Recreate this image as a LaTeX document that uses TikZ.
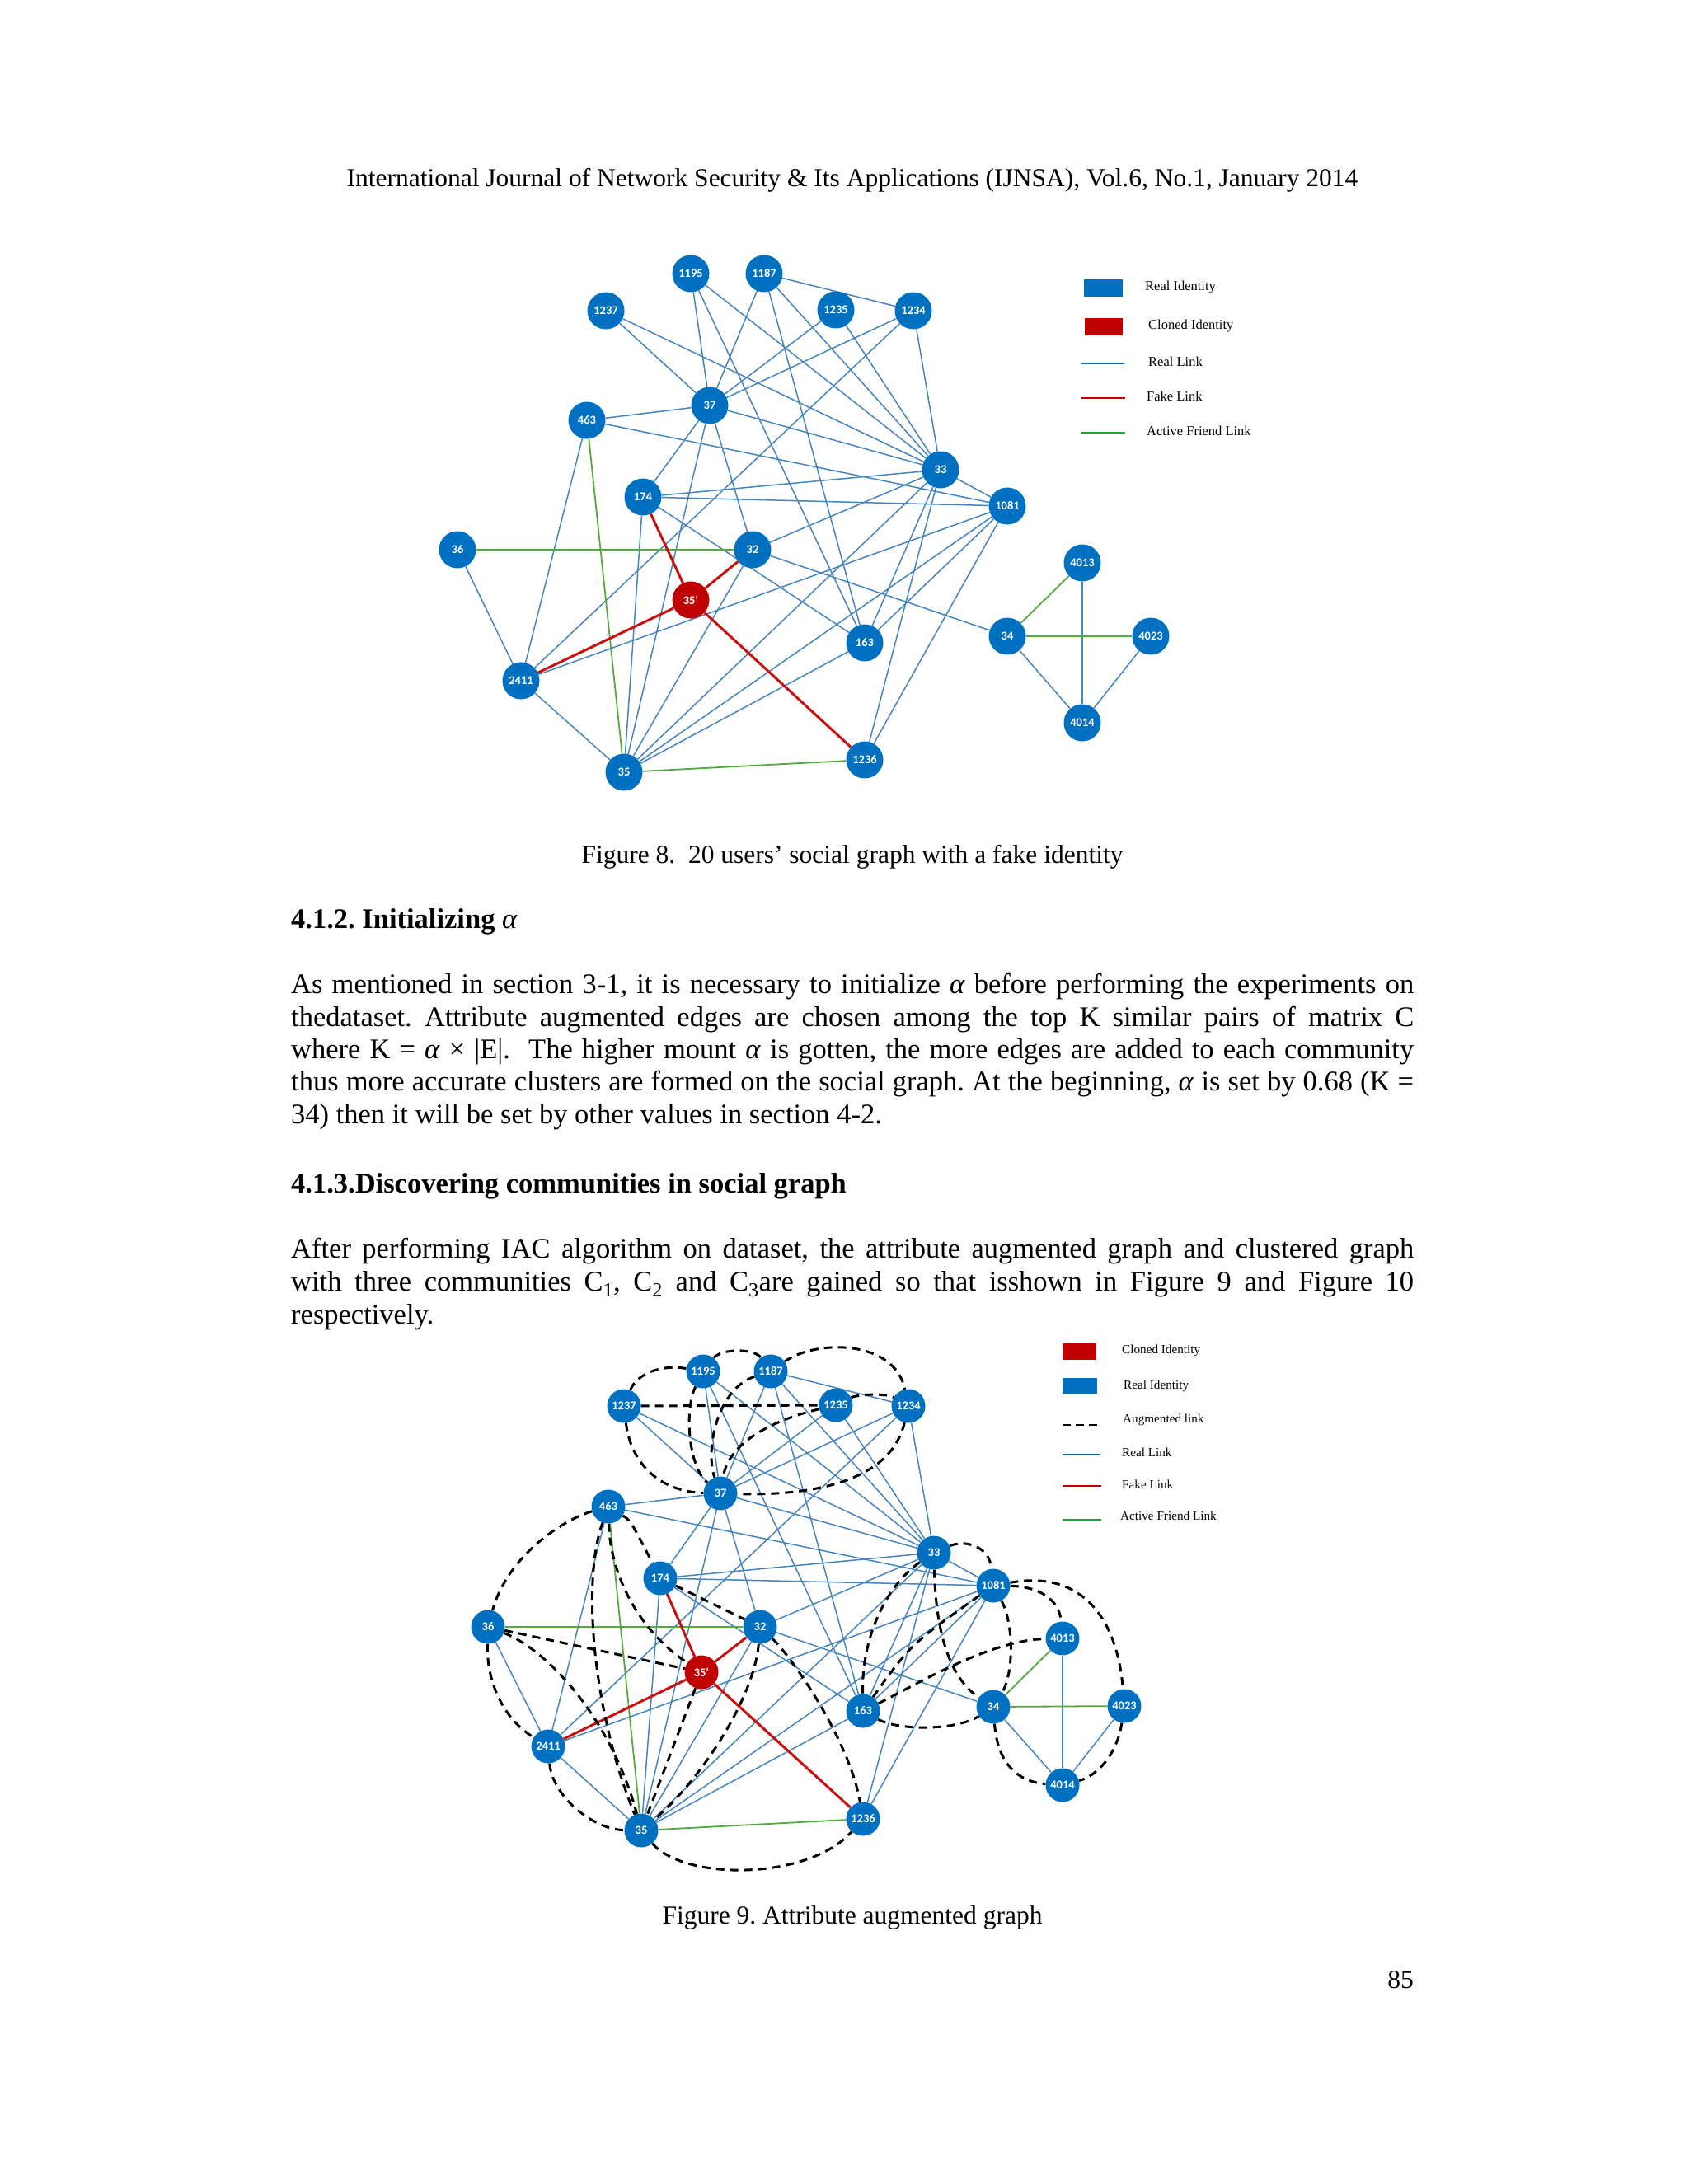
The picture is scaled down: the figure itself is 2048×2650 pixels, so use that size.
\documentclass[tikz,border=0pt]{standalone}
\usepackage{fontspec}
\setmainfont{Liberation Serif}
\newfontfamily\lblfont{Carlito}
\usetikzlibrary{backgrounds}
\definecolor{nodeblue}{RGB}{0,112,192}
\definecolor{nodered}{RGB}{192,0,0}
\definecolor{linkblue}{RGB}{70,132,190}
\definecolor{linkgreen}{RGB}{84,170,60}
\definecolor{linkred}{RGB}{200,16,16}
\definecolor{leggreen}{RGB}{20,170,60}
\begin{document}
\frenchspacing
\begin{tikzpicture}[x=1pt,y=-1pt,
  rnode/.style={circle,fill=nodeblue,text=white,inner sep=0pt,font=\lblfont\bfseries\fontsize{14.5}{15}\selectfont},
  bignode/.style={minimum size=45pt},
  smallnode/.style={minimum size=41pt},
  cnode/.style={rnode,fill=nodered},
  reallink/.style={draw=linkblue,line width=1.5pt},
  friendlink/.style={draw=linkgreen,line width=1.8pt},
  fakelink/.style={draw=linkred,line width=3pt},
  auglink/.style={draw=black,line width=3pt,dash pattern=on 10pt off 7pt},
  bodytext/.style={inner sep=0pt,anchor=base west,font=\fontsize{34.5}{40}\selectfont},
  headtext/.style={inner sep=0pt,anchor=base west,font=\bfseries\fontsize{34.5}{40}\selectfont},
  captext/.style={inner sep=0pt,anchor=base,font=\fontsize{31.5}{36}\selectfont},
  legtext/.style={inner sep=0pt,anchor=west,font=\fontsize{16.5}{18}\selectfont},
  legtextb/.style={inner sep=0pt,anchor=west,font=\fontsize{15.2}{17}\selectfont}
]
\useasboundingbox (0,0) rectangle (2048,2650);
\begin{scope}[on background layer]
\fill[white] (0,0) rectangle (2048,2650);
\end{scope}

% ---------- texts ----------
\node[captext] (hdr) at (1034,226) {International Journal of Network Security \& Its Applications (IJNSA), Vol.6, No.1, January 2014};
\node[captext] (cap8) at (1034,1047) {Figure 8.\ \ 20 users’ social graph with a fake identity};
\node[headtext] (h412) at (353,1126) {4.1.2. Initializing {\mdseries\itshape α}};
\node[bodytext] (p1a) at (353,1205) {\makebox[1362pt][s]{As mentioned in section 3-1, it is necessary to initialize \textit{α} before performing the experiments on}};
\node[bodytext] (p1b) at (353,1245) {\makebox[1362pt][s]{thedataset. Attribute augmented edges are chosen among the top K similar pairs of matrix C}};
\node[bodytext] (p1c) at (353,1284) {\makebox[1362pt][s]{where K = \textit{α} × |E|.\ \ The higher mount \textit{α} is gotten, the more edges are added to each community}};
\node[bodytext] (p1d) at (353,1323) {\makebox[1362pt][s]{thus more accurate clusters are formed on the social graph. At the beginning, \textit{α} is set by 0.68 (K =}};
\node[bodytext] (p1e) at (353,1363) {34) then it will be set by other values in section 4-2.};
\node[headtext] (h413) at (353,1447) {4.1.3.Discovering communities in social graph};
\node[bodytext] (p2a) at (353,1526) {\makebox[1362pt][s]{After performing IAC algorithm on dataset, the attribute augmented graph and clustered graph}};
\node[bodytext] (p2b) at (353,1566) {\makebox[1362pt][s]{with three communities C\textsubscript{1}, C\textsubscript{2} and C\textsubscript{3}are gained so that isshown in Figure 9 and Figure 10}};
\node[bodytext] (p2c) at (353,1606) {respectively.};
\node[captext] (cap9) at (1034,2334) {Figure 9. Attribute augmented graph};
\node[captext,anchor=base east] (pgno) at (1715,2412) {85};

% ---------- figure 8 nodes ----------
\foreach \n/\px/\py in {1195/838/332, 1187/927/332, 1237/735/377, 1235/1014/376,
  1234/1108/377, 37/861/492, 463/712/510, 33/1141/570, 174/780/603, 1081/1222/614,
  36/555/667, 32/913/667, 4013/1313/683, 34/1222/772, 4023/1396/772, 163/1049/780,
  2411/632/826, 4014/1313/877, 1236/1049/922, 35/757/937}
  \node[rnode,bignode] (a\n) at (\px,\py) {\n};
\node[cnode,bignode] (a35p) at (838,728) {35’};

% ---------- figure 9 nodes ----------
\foreach \n/\px/\py in {1195/853/1664, 1187/935/1664, 1237/757/1706, 1235/1014/1705,
  1234/1102/1706, 37/874/1812, 463/738/1828, 33/1133/1884, 174/801/1915, 1081/1205/1924,
  36/592/1974, 32/922/1974, 4013/1289/1988, 34/1205/2071, 4023/1364/2070, 163/1047/2076,
  2411/665/2119, 4014/1289/2166, 1236/1047/2207, 35/778/2221}
  \node[rnode,smallnode] (b\n) at (\px,\py) {\n};
\node[cnode,smallnode] (b35p) at (851,2029) {35’};

% ---------- edges ----------
\begin{scope}[on background layer]
\foreach \fg in {a,b}{
  \foreach \u/\v in {1187/1234, 1237/37, 1237/33, 1195/37, 1195/163, 1195/33,
    1187/37, 1187/163, 1187/33, 1235/37, 1235/33, 1234/37, 1234/33, 1234/2411,
    463/37, 463/1081, 463/2411, 37/33, 37/174, 37/32, 37/35, 33/174, 33/1081,
    33/32, 33/163, 33/35, 33/1236, 174/1081, 174/163, 174/35, 1081/2411, 1081/35,
    1081/163, 1081/1236, 32/34, 32/35, 36/2411, 2411/35, 163/35, 34/4014,
    4013/4014, 4023/4014}
    \draw[reallink] (\fg\u) -- (\fg\v);
  \foreach \u/\v in {36/32, 463/35, 35/1236, 34/4013, 34/4023}
    \draw[friendlink] (\fg\u) -- (\fg\v);
  \foreach \u in {174, 32, 2411, 1236}
    \draw[fakelink] (\fg35p) -- (\fg\u);
}
% augmented links (figure 9)
\draw[auglink] (b1237) .. controls (772,1668) and (800,1655) .. (b1195);
\draw[auglink] (b1195) .. controls (875,1636) and (915,1636) .. (b1187);
\draw[auglink] (b1187) .. controls (990,1625) and (1085,1625) .. (b1234);
\draw[auglink] (b1237) -- (b1235);
\draw[auglink] (b1235) .. controls (1040,1692) and (1075,1690) .. (b1234);
\draw[auglink] (b1237) .. controls (765,1775) and (800,1810) .. (b37);
\draw[auglink] (b1195) .. controls (830,1710) and (835,1780) .. (b37);
\draw[auglink] (b1187) .. controls (870,1685) and (855,1760) .. (b37);
\draw[auglink] (b1235) .. controls (950,1720) and (885,1745) .. (b37);
\draw[auglink] (b1234) .. controls (1080,1800) and (980,1815) .. (b37);
\draw[auglink] (b463) .. controls (680,1845) and (615,1890) .. (b36);
\draw[auglink] (b463) .. controls (705,1920) and (720,2080) .. (b35);
\draw[auglink] (b463) .. controls (740,1905) and (770,1975) .. (b35p);
\draw[auglink] (b463) .. controls (765,1845) .. (b174);
\draw[auglink] (b36) .. controls (590,2040) and (610,2085) .. (b2411);
\draw[auglink] (b36) -- (b35p);
\draw[auglink] (b36) .. controls (660,2000) and (740,2080) .. (b35);
\draw[auglink] (b174) -- (b32);
\draw[auglink] (b35p) -- (b35);
\draw[auglink] (b32) .. controls (915,2060) and (850,2160) .. (b35);
\draw[auglink] (b32) .. controls (960,2010) and (1030,2110) .. (b1236);
\draw[auglink] (b2411) .. controls (670,2180) and (720,2220) .. (b35);
\draw[auglink] (b35) .. controls (830,2282) and (980,2282) .. (b1236);
\draw[auglink] (b33) .. controls (1170,1868) and (1200,1875) .. (b1081);
\draw[auglink] (b33) .. controls (1135,1975) and (1150,2035) .. (b34);
\draw[auglink] (b33) .. controls (1080,1920) and (1045,1980) .. (b163);
\draw[auglink] (b1081) .. controls (1105,1995) .. (b163);
\draw[auglink] (b163) .. controls (1110,2045) and (1200,1990) .. (b4013);
\draw[auglink] (b163) .. controls (1090,2100) and (1160,2100) .. (b34);
\draw[auglink] (b1081) .. controls (1230,1970) and (1230,2030) .. (b34);
\draw[auglink] (b1081) .. controls (1260,1925) and (1285,1940) .. (b4013);
\draw[auglink] (b1081) .. controls (1310,1905) and (1355,1960) .. (b4023);
\draw[auglink] (b34) .. controls (1210,2140) and (1235,2162) .. (b4014);
\draw[auglink] (b4023) .. controls (1355,2130) and (1330,2155) .. (b4014);
\end{scope}

% ---------- legend figure 8 ----------
\fill[nodeblue] (1315,339) rectangle (1362,360);
\node[legtext] (l8a) at (1389,349) {Real Identity};
\fill[nodered] (1316,386) rectangle (1362,407);
\node[legtext] (l8b) at (1393,396) {Cloned Identity};
\draw[nodeblue,line width=2.5pt] (1312,441) -- (1364,441);
\node[legtext] (l8c) at (1393,439) {Real Link};
\draw[nodered,line width=2.5pt] (1312,483) -- (1365,483);
\node[legtext] (l8d) at (1391,481) {Fake Link};
\draw[leggreen,line width=2.5pt] (1312,525) -- (1365,525);
\node[legtext] (l8e) at (1391,523) {Active Friend Link};

% ---------- legend figure 9 ----------
\fill[nodered] (1289,1630) rectangle (1330,1650);
\node[legtextb] (l9a) at (1361,1639) {Cloned Identity};
\fill[nodeblue] (1289,1672) rectangle (1331,1691);
\node[legtextb] (l9b) at (1363,1682) {Real Identity};
\draw[black,line width=2.5pt,dash pattern=on 10pt off 6pt] (1289,1729) -- (1334,1729);
\node[legtextb] (l9c) at (1362,1723) {Augmented link};
\draw[nodeblue,line width=2pt] (1289,1765) -- (1335,1765);
\node[legtextb] (l9d) at (1361,1762) {Real Link};
\draw[nodered,line width=2pt] (1289,1803) -- (1336,1803);
\node[legtextb] (l9e) at (1361,1801) {Fake Link};
\draw[leggreen,line width=2pt] (1289,1844) -- (1336,1844);
\node[legtextb] (l9f) at (1359,1839) {Active Friend Link};
\end{tikzpicture}
\end{document}
